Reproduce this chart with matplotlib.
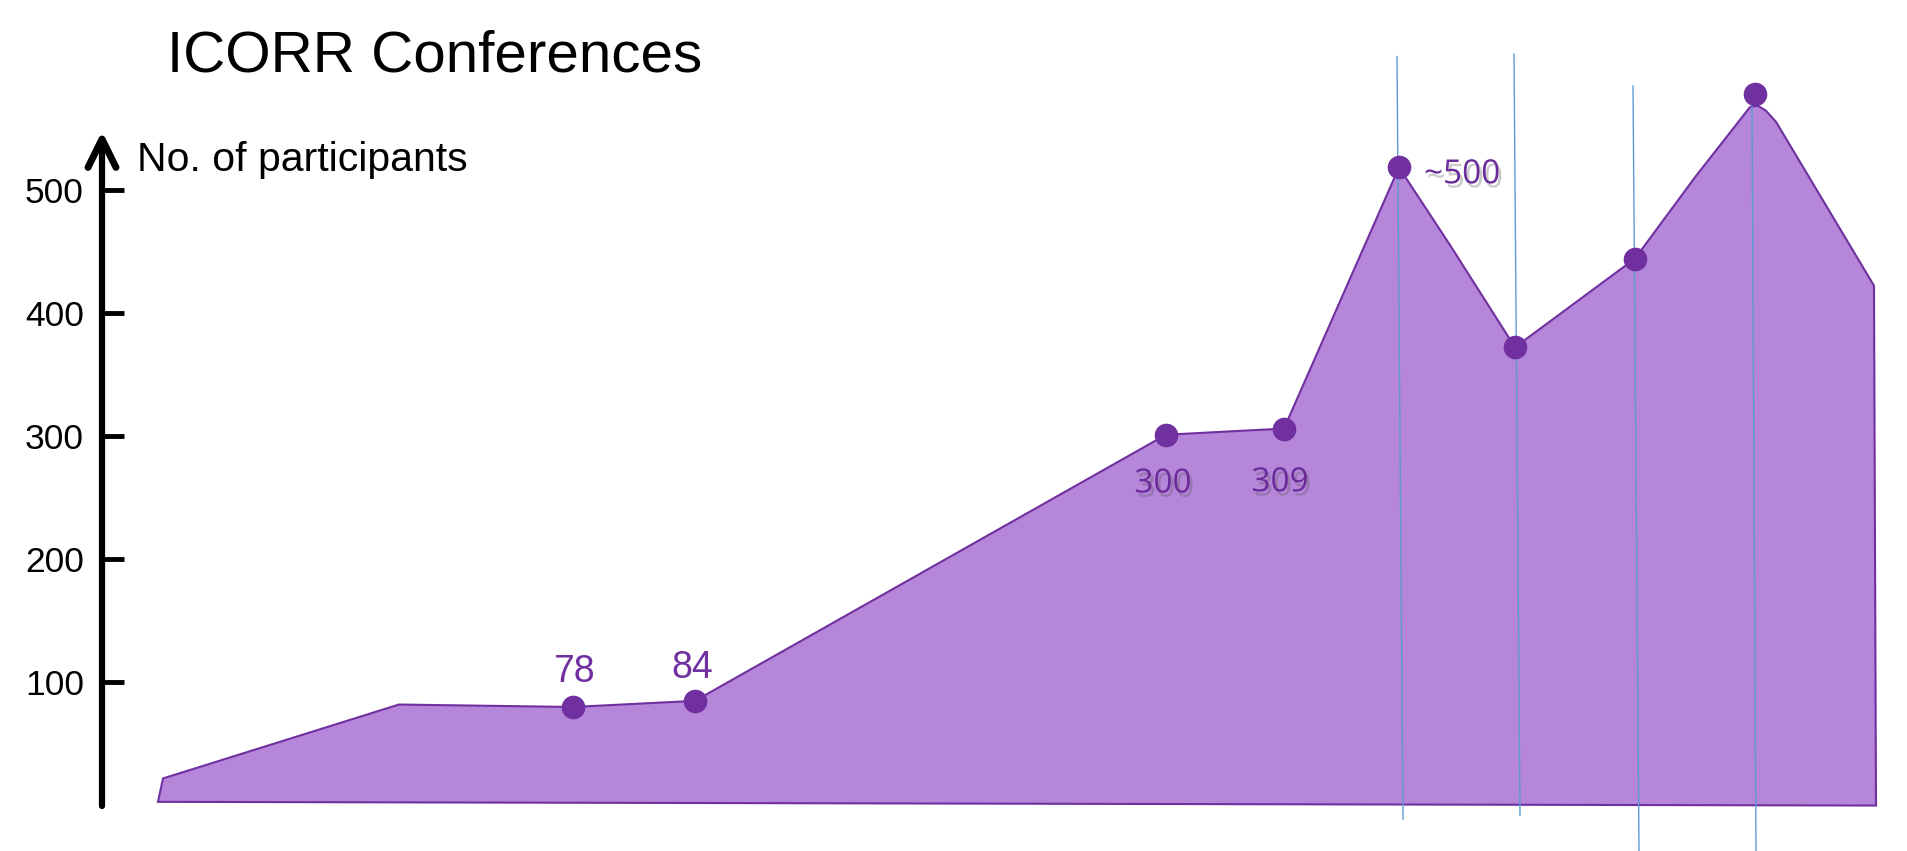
import matplotlib
matplotlib.use("Agg")
import matplotlib.pyplot as plt
import matplotlib.patheffects as pe

plt.rcParams['font.family'] = ['Liberation Sans', 'DejaVu Sans']

# ---- data (x = horizontal position along timeline, y = participants) ----
outline_x = [163, 399, 573, 695, 1166, 1284, 1399, 1450, 1515, 1635, 1695, 1750, 1758, 1766, 1776, 1874]
outline_y = [22, 82, 80, 85, 301, 306, 518, 455, 372, 444, 510, 567, 568, 564, 555, 422]
base_x = [1876, 158]
base_y = [0, 3]

marker_x = [573, 695, 1166, 1284, 1399, 1515, 1635, 1755]
marker_y = [80, 85, 301, 306, 518, 372, 444, 578]

label_text = ["78", "84", "300", "309", "~500"]
label_x = [574, 692, 1163, 1280, 1424]
label_y = [108, 112, 261, 262, 512]

vline_top_x = [1397, 1514, 1633, 1752]
vline_bot_x = [1403, 1520, 1639, 1756]
vline_top = [608, 610, 584, 569]
vline_bot = [-11, -8, -37, -37]

yticks = [100, 200, 300, 400, 500]

purple = '#7030A0'
fill_c = '#B586D9'
blue = '#5B9BD5'

fig = plt.figure(figsize=(19.08, 8.51), dpi=100)
ax = fig.add_axes([0, 0, 1, 1])
ax.set_xlim(0, 1908)
ax.set_ylim(-36.9, 653.9)

# area
ax.fill(outline_x + base_x, outline_y + base_y, facecolor=fill_c,
        edgecolor=purple, linewidth=1.5, zorder=2)

# vertical guide lines
for x0, x1, y0, y1 in zip(vline_top_x, vline_bot_x, vline_top, vline_bot):
    ax.plot([x0, x1], [y0, y1], color=blue, lw=1.0, zorder=3, clip_on=False)

# markers
ax.plot(marker_x, marker_y, 'o', color=purple, ms=16, mec=purple, zorder=4, linestyle='none')

# labels
shadow = [pe.SimplePatchShadow(offset=(2, -3), shadow_rgbFace='#555555', alpha=0.3), pe.Normal()]
for i, (t, x, y) in enumerate(zip(label_text, label_x, label_y)):
    if i < 2:
        ax.text(x, y, t, color=purple, fontsize=27, ha='center', va='center',
                family='Liberation Sans', zorder=5)
    elif i < 4:
        ax.text(x, y, t, color='#6A2C9A', fontsize=24, ha='center', va='center',
                family=['Open Sans', 'DejaVu Sans'], zorder=5, path_effects=shadow)
    else:
        ax.text(x, y, t, color='#6A2C9A', fontsize=24, ha='left', va='center',
                family=['Open Sans', 'DejaVu Sans'], zorder=5, path_effects=shadow)

# y axis
for s in ['top', 'right', 'bottom']:
    ax.spines[s].set_visible(False)
ax.spines['left'].set_position(('data', 102))
ax.spines['left'].set_bounds(0, 540)
ax.spines['left'].set_linewidth(4.5)
ax.spines['left'].set_capstyle('round')
ax.set_xticks([])
ax.set_yticks(yticks)
ax.set_yticklabels([str(v) for v in yticks])
ax.tick_params(axis='y', direction='in', length=16, width=3.5, pad=13, labelsize=25.5)
# arrow head
ax.plot([88, 102, 116], [518, 541, 518], color='black', lw=5, solid_capstyle='round',
        solid_joinstyle='round', zorder=6)

ax.text(137, 524, "No. of participants", fontsize=29.5, ha='left', va='center')
fig.text(167 / 1908, 1 - 57 / 851, "ICORR Conferences", fontsize=42, ha='left', va='center')

fig.savefig('out.png', dpi=100)
